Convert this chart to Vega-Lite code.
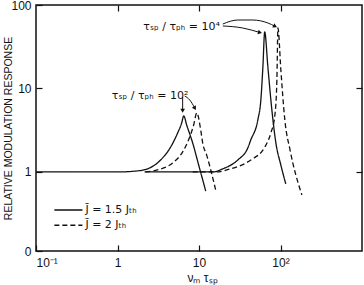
{
  "$schema": "https://vega.github.io/schema/vega-lite/v6.json",
  "width": 326,
  "height": 246,
  "autosize": "none",
  "padding": {"left": 36, "top": 5, "right": 2, "bottom": 34},
  "background": "white",
  "config": {
    "view": {"stroke": "#111", "strokeWidth": 1.5},
    "axis": {"domain": false, "grid": false, "labelFont": "Liberation Sans", "labelColor": "#111", "tickColor": "#111", "tickWidth": 1.2, "titleFont": "Liberation Sans", "titleFontWeight": "normal", "titleColor": "#111"}
  },
  "datasets": {
    "curves": [
      {"s": "A", "d": "solid", "i": 0, "x": 0.1, "y": 1},
      {"s": "A", "d": "solid", "i": 1, "x": 1, "y": 1},
      {"s": "A", "d": "solid", "i": 2, "x": 1.76, "y": 1.03},
      {"s": "A", "d": "solid", "i": 3, "x": 2.34, "y": 1.09},
      {"s": "A", "d": "solid", "i": 4, "x": 3.38, "y": 1.39},
      {"s": "A", "d": "solid", "i": 5, "x": 4.49, "y": 1.99},
      {"s": "A", "d": "solid", "i": 6, "x": 5.47, "y": 2.93},
      {"s": "A", "d": "solid", "i": 7, "x": 6.13, "y": 3.86},
      {"s": "A", "d": "solid", "i": 8, "x": 6.5, "y": 4.7},
      {"s": "A", "d": "solid", "i": 9, "x": 7.06, "y": 3.65},
      {"s": "A", "d": "solid", "i": 10, "x": 8.37, "y": 2.22},
      {"s": "A", "d": "solid", "i": 11, "x": 9.91, "y": 1.21},
      {"s": "A", "d": "solid", "i": 12, "x": 12.1, "y": 0.59},
      {"s": "B", "d": "dashed", "i": 0, "x": 2.21, "y": 1},
      {"s": "B", "d": "dashed", "i": 1, "x": 3.1, "y": 1.06},
      {"s": "B", "d": "dashed", "i": 2, "x": 4.75, "y": 1.28},
      {"s": "B", "d": "dashed", "i": 3, "x": 6.3, "y": 1.74},
      {"s": "B", "d": "dashed", "i": 4, "x": 7.69, "y": 2.62},
      {"s": "B", "d": "dashed", "i": 5, "x": 8.6, "y": 3.65},
      {"s": "B", "d": "dashed", "i": 6, "x": 9.4, "y": 5.1},
      {"s": "B", "d": "dashed", "i": 7, "x": 10.5, "y": 3.18},
      {"s": "B", "d": "dashed", "i": 8, "x": 11.1, "y": 2.22},
      {"s": "B", "d": "dashed", "i": 9, "x": 12.4, "y": 1.6},
      {"s": "B", "d": "dashed", "i": 10, "x": 16, "y": 0.61},
      {"s": "C", "d": "solid", "i": 0, "x": 2.15, "y": 1},
      {"s": "C", "d": "solid", "i": 1, "x": 14.7, "y": 1},
      {"s": "C", "d": "solid", "i": 2, "x": 19.6, "y": 1.09},
      {"s": "C", "d": "solid", "i": 3, "x": 29.9, "y": 1.39},
      {"s": "C", "d": "solid", "i": 4, "x": 39.7, "y": 1.94},
      {"s": "C", "d": "solid", "i": 5, "x": 43.2, "y": 2.42},
      {"s": "C", "d": "solid", "i": 6, "x": 52.7, "y": 4.2},
      {"s": "C", "d": "solid", "i": 7, "x": 57.4, "y": 7.28},
      {"s": "C", "d": "solid", "i": 8, "x": 60.8, "y": 18.1},
      {"s": "C", "d": "solid", "i": 9, "x": 64, "y": 47.5},
      {"s": "C", "d": "solid", "i": 10, "x": 70, "y": 18.1},
      {"s": "C", "d": "solid", "i": 11, "x": 78.4, "y": 5.5},
      {"s": "C", "d": "solid", "i": 12, "x": 87.8, "y": 2.22},
      {"s": "C", "d": "solid", "i": 13, "x": 101, "y": 1.21},
      {"s": "C", "d": "solid", "i": 14, "x": 116, "y": 0.72},
      {"s": "D", "d": "dashed", "i": 0, "x": 8.37, "y": 1},
      {"s": "D", "d": "dashed", "i": 1, "x": 16, "y": 1},
      {"s": "D", "d": "dashed", "i": 2, "x": 24.5, "y": 1.09},
      {"s": "D", "d": "dashed", "i": 3, "x": 43.2, "y": 1.39},
      {"s": "D", "d": "dashed", "i": 4, "x": 64.3, "y": 1.99},
      {"s": "D", "d": "dashed", "i": 5, "x": 76.2, "y": 2.93},
      {"s": "D", "d": "dashed", "i": 6, "x": 85.3, "y": 4.8},
      {"s": "D", "d": "dashed", "i": 7, "x": 90.3, "y": 12.6},
      {"s": "D", "d": "dashed", "i": 8, "x": 93, "y": 53},
      {"s": "D", "d": "dashed", "i": 9, "x": 101, "y": 16.7},
      {"s": "D", "d": "dashed", "i": 10, "x": 113, "y": 4.2},
      {"s": "D", "d": "dashed", "i": 11, "x": 131, "y": 1.83},
      {"s": "D", "d": "dashed", "i": 12, "x": 183, "y": 0.53},
      {"s": "L1", "d": "solid", "i": 0, "x": 0.168, "y": 0.35},
      {"s": "L1", "d": "solid", "i": 1, "x": 0.371, "y": 0.35},
      {"s": "L2", "d": "dashed", "i": 0, "x": 0.168, "y": 0.23},
      {"s": "L2", "d": "dashed", "i": 1, "x": 0.371, "y": 0.23}
    ],
    "arrows": [
      {"s": "U", "i": 0, "x": 19.6, "y": 59.2},
      {"s": "U", "i": 1, "x": 29.9, "y": 66.1},
      {"s": "U", "i": 2, "x": 45.8, "y": 66.1},
      {"s": "U", "i": 3, "x": 70, "y": 60.9},
      {"s": "U", "i": 4, "x": 86, "y": 55.5},
      {"s": "W", "i": 0, "x": 19.6, "y": 56.1},
      {"s": "W", "i": 1, "x": 34.5, "y": 53.0},
      {"s": "W", "i": 2, "x": 56, "y": 46.8},
      {"s": "V", "i": 0, "x": 6.3, "y": 7.91},
      {"s": "V", "i": 1, "x": 6.3, "y": 5.4},
      {"s": "G", "i": 0, "x": 6.67, "y": 8.13},
      {"s": "G", "i": 1, "x": 7.69, "y": 7.29},
      {"s": "G", "i": 2, "x": 8.9, "y": 5.8}
    ],
    "heads": [
      {"x": 86, "y": 55.5, "a": 27},
      {"x": 56, "y": 46.8, "a": 15},
      {"x": 6.3, "y": 5.4, "a": 90},
      {"x": 8.9, "y": 5.8, "a": 60}
    ],
    "rlabels": [
      {"x": 18.0, "y": 55, "t": "τₛₚ / τₚₕ = 10⁴"},
      {"x": 7.4, "y": 8.2, "t": "τₛₚ / τₚₕ = 10²"}
    ],
    "llabels": [
      {"x": 0.404, "y": 0.35, "t": "J̄ = 1.5 Jₜₕ"},
      {"x": 0.404, "y": 0.23, "t": "J̄ = 2 Jₜₕ"}
    ]
  },
  "layer": [
    {
      "data": {"name": "curves"},
      "mark": {"type": "line", "strokeWidth": 1.3, "color": "#111", "interpolate": "monotone"},
      "encoding": {
        "x": {"field": "x", "type": "quantitative", "scale": {"type": "log", "domain": [0.1, 1000], "nice": false},
          "axis": {"orient": "bottom", "values": [0.1, 1, 10, 100], "tickSize": -6, "labelPadding": 12, "labelFontSize": 12,
            "labelExpr": "datum.value < 0.5 ? '10⁻¹' : datum.value > 50 ? '10²' : datum.label",
            "title": "νₘ  τₛₚ", "titleFontSize": 12, "titleY": 26, "titleBaseline": "middle", "titleX": 166}},
        "y": {"field": "y", "type": "quantitative", "scale": {"type": "log", "domain": [0.113, 100], "nice": false},
          "axis": {"orient": "left", "values": [0.113, 1, 10, 100], "tickSize": -6, "labelPadding": 11, "labelFontSize": 12,
            "labelExpr": "datum.value < 0.5 ? '0' : datum.value > 50 ? '100' : datum.value > 5 ? '10' : '1'",
            "title": "RELATIVE MODULATION RESPONSE", "titleFontSize": 10.5, "titleX": -28, "titleY": 123, "titleBaseline": "middle", "titleAlign": "center", "titleAngle": -90}},
        "detail": {"field": "s"},
        "order": {"field": "i", "type": "quantitative"},
        "strokeDash": {"field": "d", "type": "nominal", "scale": {"domain": ["solid", "dashed"], "range": [[1, 0], [5, 3]]}, "legend": null}
      }
    },
    {
      "data": {"name": "curves"},
      "mark": {"type": "point", "opacity": 0},
      "encoding": {
        "x": {"field": "x", "type": "quantitative", "scale": {"type": "log", "domain": [0.1, 1000], "nice": false},
          "axis": {"orient": "top", "values": [1, 10, 100], "tickSize": -6, "labels": false, "title": null}},
        "y": {"field": "y", "type": "quantitative", "scale": {"type": "log", "domain": [0.113, 100], "nice": false},
          "axis": {"orient": "right", "values": [1, 10], "tickSize": -6, "labels": false, "title": null}}
      }
    },
    {
      "data": {"name": "arrows"},
      "mark": {"type": "line", "strokeWidth": 1, "color": "#111", "interpolate": "monotone"},
      "encoding": {
        "x": {"field": "x", "type": "quantitative", "scale": {"type": "log", "domain": [0.1, 1000], "nice": false}, "axis": null},
        "y": {"field": "y", "type": "quantitative", "scale": {"type": "log", "domain": [0.113, 100], "nice": false}, "axis": null},
        "detail": {"field": "s"},
        "order": {"field": "i", "type": "quantitative"}
      }
    },
    {
      "data": {"name": "heads"},
      "mark": {"type": "point", "shape": "triangle-right", "filled": true, "color": "#111", "size": 22, "opacity": 1},
      "encoding": {
        "x": {"field": "x", "type": "quantitative", "scale": {"type": "log", "domain": [0.1, 1000], "nice": false}, "axis": null},
        "y": {"field": "y", "type": "quantitative", "scale": {"type": "log", "domain": [0.113, 100], "nice": false}, "axis": null},
        "angle": {"field": "a", "type": "quantitative", "scale": null}
      }
    },
    {
      "data": {"name": "rlabels"},
      "mark": {"type": "text", "align": "right", "baseline": "middle", "font": "DejaVu Sans", "fontSize": 11, "color": "#111"},
      "encoding": {
        "x": {"field": "x", "type": "quantitative", "scale": {"type": "log", "domain": [0.1, 1000], "nice": false}, "axis": null},
        "y": {"field": "y", "type": "quantitative", "scale": {"type": "log", "domain": [0.113, 100], "nice": false}, "axis": null},
        "text": {"field": "t"}
      }
    },
    {
      "data": {"name": "llabels"},
      "mark": {"type": "text", "align": "left", "baseline": "middle", "font": "DejaVu Sans", "fontSize": 11, "color": "#111"},
      "encoding": {
        "x": {"field": "x", "type": "quantitative", "scale": {"type": "log", "domain": [0.1, 1000], "nice": false}, "axis": null},
        "y": {"field": "y", "type": "quantitative", "scale": {"type": "log", "domain": [0.113, 100], "nice": false}, "axis": null},
        "text": {"field": "t"}
      }
    }
  ],
  "resolve": {"axis": {"x": "independent", "y": "independent"}}
}
